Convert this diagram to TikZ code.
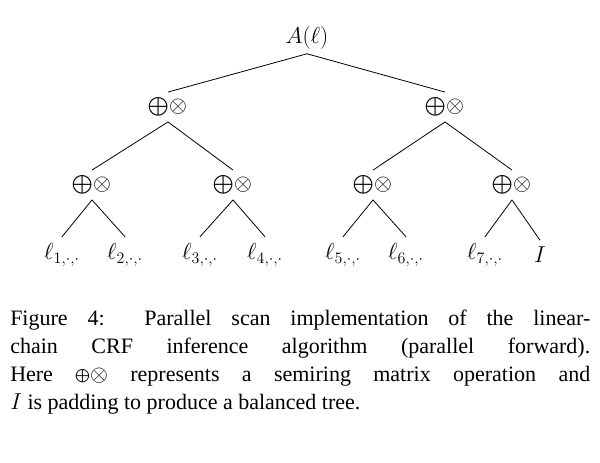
\documentclass[tikz,border=0pt]{standalone}
\usepackage{fontspec}
\setmainfont{Liberation Serif}
\begin{document}
\begin{tikzpicture}[x=0.75pt,y=-0.75pt,
  op/.style={inner sep=3pt,font=\fontsize{18}{21}\selectfont},
  leaf/.style={inner sep=5pt,font=\fontsize{18}{21}\selectfont},
  edge/.style={draw,line width=0.6pt}]
\useasboundingbox (0,0) rectangle (600,462);
\node[op] (r) at (307,38) {$A(\ell)$};
\node[op] (a) at (168,107) {$\displaystyle\bigoplus\!\otimes$};
\node[op] (b) at (445,107) {$\displaystyle\bigoplus\!\otimes$};
\node[op] (a1) at (92,185) {$\displaystyle\bigoplus\!\otimes$};
\node[op] (a2) at (233,185) {$\displaystyle\bigoplus\!\otimes$};
\node[op] (b1) at (373,185) {$\displaystyle\bigoplus\!\otimes$};
\node[op] (b2) at (512,185) {$\displaystyle\bigoplus\!\otimes$};
\node[leaf] (l1) at (62,255) {$\ell_{1,\cdot,\cdot}$};
\node[leaf] (l2) at (125,255) {$\ell_{2,\cdot,\cdot}$};
\node[leaf] (l3) at (200,255) {$\ell_{3,\cdot,\cdot}$};
\node[leaf] (l4) at (265,255) {$\ell_{4,\cdot,\cdot}$};
\node[leaf] (l5) at (343,255) {$\ell_{5,\cdot,\cdot}$};
\node[leaf] (l6) at (406,255) {$\ell_{6,\cdot,\cdot}$};
\node[leaf] (l7) at (485,255) {$\ell_{7,\cdot,\cdot}$};
\node[leaf] (l8) at (540,255) {$I$};
\foreach \p/\c in {r/a,r/b,a/a1,a/a2,b/b1,b/b2,a1/l1,a1/l2,a2/l3,a2/l4,b1/l5,b1/l6,b2/l7,b2/l8}
  \draw[edge] (\p.south) -- (\c.north);
\node[anchor=north west,inner sep=0pt,text width=435pt,align=justify,
  font=\fontsize{16.5}{21}\selectfont] (cap) at (10,310)
  {Figure 4:\ \ Parallel scan implementation of the linear-\linebreak chain CRF inference algorithm (parallel forward).\linebreak Here $\bigoplus\!\otimes$ represents a semiring matrix operation and\linebreak $I$ is padding to produce a balanced tree.};
\end{tikzpicture}
\end{document}
